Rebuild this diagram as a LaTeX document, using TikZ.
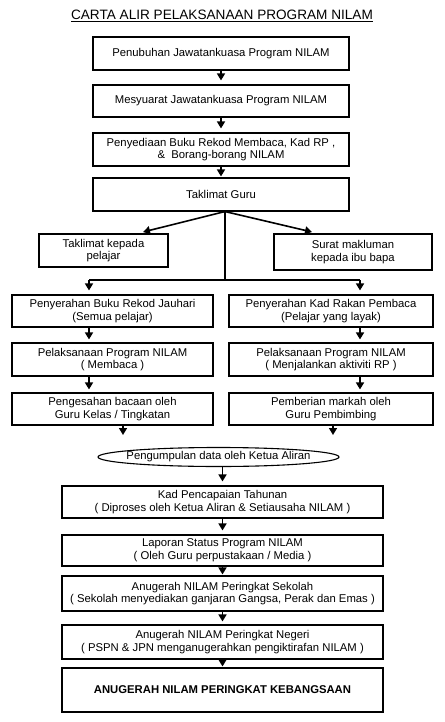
\documentclass[tikz,border=0pt]{standalone}
\usepackage{fontspec}
\setmainfont{Liberation Sans}
\usetikzlibrary{arrows.meta,shapes.geometric}

\tikzset{
  kotak/.style={draw,line width=1.1pt,inner sep=0pt,align=center,font=\fontsize{11.3}{12.7}\selectfont},
  panah/.style={line width=1.6pt,-{Triangle[width=8pt,length=7pt]}},
  garis/.style={line width=1.6pt}
}

\begin{document}
\begin{tikzpicture}[x=1pt,y=-1pt]
  \useasboundingbox (0,0) rectangle (444,722);

  \node[font=\fontsize{13.6}{15}\selectfont] (tajuk) at (222,16) {\underline{CARTA ALIR PELAKSANAAN PROGRAM NILAM}};

  \node[kotak,minimum width=256pt,minimum height=33pt] (penubuhan) at (221,53.5) {Penubuhan Jawatankuasa Program NILAM};
  \node[kotak,minimum width=256pt,minimum height=32pt] (mesyuarat) at (221,101) {Mesyuarat Jawatankuasa Program NILAM};
  \node[kotak,minimum width=256pt,minimum height=33pt] (penyediaan) at (221,149.5) {Penyediaan Buku Rekod Membaca, Kad RP ,\\ \&\ \ Borang-borang NILAM};
  \node[kotak,minimum width=256pt,minimum height=33pt] (guru) at (221,194.5) {Taklimat Guru};

  \node[kotak,minimum width=129pt,minimum height=33pt] (pelajar) at (103.5,250.5) {Taklimat kepada\\pelajar};
  \node[kotak,minimum width=158pt,minimum height=36pt] (ibubapa) at (353,252) {Surat makluman\\kepada ibu bapa};

  \node[kotak,minimum width=201pt,minimum height=32pt] (jauhari) at (112.5,311) {Penyerahan Buku Rekod Jauhari\\(Semua pelajar)};
  \node[kotak,minimum width=204pt,minimum height=32pt] (rakan) at (331,311) {Penyerahan Kad Rakan Pembaca\\(Pelajar yang layak)};
  \node[kotak,minimum width=201pt,minimum height=33pt] (membaca) at (112.5,359.5) {Pelaksanaan Program NILAM\\( Membaca )};
  \node[kotak,minimum width=204pt,minimum height=33pt] (aktiviti) at (331,359.5) {Pelaksanaan Program NILAM\\( Menjalankan aktiviti RP )};
  \node[kotak,minimum width=201pt,minimum height=32pt] (pengesahan) at (112.5,409) {Pengesahan bacaan oleh\\Guru Kelas / Tingkatan};
  \node[kotak,minimum width=204pt,minimum height=32pt] (pemberian) at (331,409) {Pemberian markah oleh\\Guru Pembimbing};

  \node[kotak,ellipse,minimum width=241pt,minimum height=19pt] (kumpul) at (218.5,457) {\makebox[0pt]{Pengumpulan data oleh Ketua Aliran}};

  \node[kotak,minimum width=321pt,minimum height=32pt] (kad) at (222.5,502) {Kad Pencapaian Tahunan\\( Diproses oleh Ketua Aliran \& Setiausaha NILAM )};
  \node[kotak,minimum width=321pt,minimum height=31pt] (laporan) at (222.5,550.5) {Laporan Status Program NILAM\\( Oleh Guru perpustakaan / Media )};
  \node[kotak,minimum width=321pt,minimum height=35pt] (sekolah) at (222.5,593.5) {Anugerah NILAM Peringkat Sekolah\\( Sekolah menyediakan ganjaran Gangsa, Perak dan Emas )};
  \node[kotak,minimum width=321pt,minimum height=34pt] (negeri) at (222.5,642) {Anugerah NILAM Peringkat Negeri\\( PSPN \& JPN menganugerahkan pengiktirafan NILAM )};
  \node[kotak,minimum width=321pt,minimum height=44pt] (kebangsaan) at (222.5,690) {\textbf{ANUGERAH NILAM PERINGKAT KEBANGSAAN}};

  \coordinate (pecah) at (225,280);
  \coordinate (pecahL) at (89,280);
  \coordinate (pecahR) at (360,280);
  \coordinate (hujungL) at (143,232);
  \coordinate (hujungR) at (312,232);
  \coordinate (masukL) at (123,435);
  \coordinate (masukR) at (333,435);

  \draw[panah,shorten >=4pt] (penubuhan.south) -- (mesyuarat.north);
  \draw[panah,shorten >=4pt] (mesyuarat.south) -- (penyediaan.north);
  \draw[panah,shorten >=1pt] (penyediaan.south) -- (guru.north);

  \draw[panah] (guru.south -| pecah) -- (hujungL);
  \draw[panah] (guru.south -| pecah) -- (hujungR);
  \draw[garis] (guru.south -| pecah) -- (pecah);
  \draw[garis] (pecahL) -- (pecahR);
  \draw[panah,shorten >=4pt] (pecahL) -- (jauhari.north -| pecahL);
  \draw[panah,shorten >=4pt] (pecahR) -- (rakan.north -| pecahR);

  \draw[panah,shorten >=3pt] (jauhari.south -| pecahL) -- (membaca.north -| pecahL);
  \draw[panah,shorten >=3pt] (rakan.south -| pecahR) -- (aktiviti.north -| pecahR);
  \draw[panah,shorten >=3pt] (membaca.south -| pecahL) -- (pengesahan.north -| pecahL);
  \draw[panah,shorten >=3pt] (aktiviti.south -| pecahR) -- (pemberian.north -| pecahR);
  \draw[panah] (pengesahan.south -| masukL) -- (masukL);
  \draw[panah] (pemberian.south -| masukR) -- (masukR);

  \draw[panah,shorten >=4pt] (kad.north |- kumpul.south) -- (kad.north);
  \draw[panah,shorten >=4pt] (kad.south) -- (laporan.north);
  \draw[panah,shorten >=1pt] (laporan.south) -- (sekolah.north);
  \draw[panah,shorten >=3pt] (sekolah.south) -- (negeri.north);
  \draw[panah,shorten >=1pt] (negeri.south) -- (kebangsaan.north);
\end{tikzpicture}
\end{document}
